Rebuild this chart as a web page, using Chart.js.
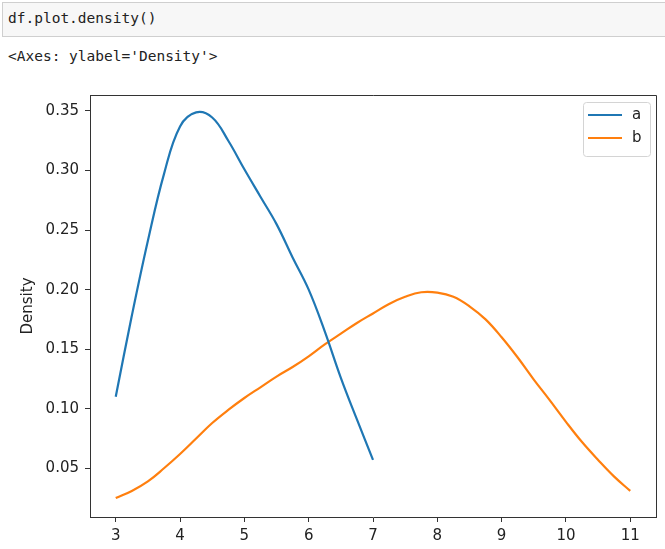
<!DOCTYPE html>
<html>
<head>
<meta charset="utf-8">
<script src="https://cdn.jsdelivr.net/npm/chart.js@4/dist/chart.umd.min.js"></script>
<style>
    body { margin: 0; background: #fff; width: 665px; height: 549px; overflow: hidden; position: relative; }
    .cell {
        position: absolute; left: 2px; top: 2px; width: 700px; height: 35px;
        background: #f7f7f7; border: 1px solid #cfcfcf; box-sizing: border-box;
    }
    .code, .out {
        position: absolute; left: 8px; font-family: "DejaVu Sans Mono", monospace;
        font-size: 14.5px; color: #222; white-space: pre;
    }
    .code { top: 10px; }
    .out { top: 48px; }
    #wrap { position: absolute; left: 0; top: 80px; width: 665px; height: 469px; }
</style>
</head>
<body>
<div class="cell"></div>
<div class="code">df.plot.density()</div>
<div class="out">&lt;Axes: ylabel='Density'&gt;</div>
<div id="wrap"><canvas id="chart"></canvas></div>

<script>
// === Data ===
const xA = [3, 3.25, 3.5, 3.75, 4, 4.25, 4.5, 4.75, 5, 5.25, 5.5, 5.75, 6, 6.25, 6.5, 6.75, 7];
const densityA = [0.110, 0.178, 0.241, 0.297, 0.337, 0.3488, 0.3445, 0.325, 0.301, 0.278, 0.255, 0.227, 0.200, 0.165, 0.126, 0.091, 0.057];

const xB = [3, 3.25, 3.5, 3.75, 4, 4.25, 4.5, 4.75, 5, 5.25, 5.5, 5.75, 6, 6.25, 6.5, 6.75, 7,
            7.25, 7.5, 7.75, 8, 8.25, 8.5, 8.75, 9, 9.25, 9.5, 9.75, 10, 10.25, 10.5, 10.75, 11];
const densityB = [0.025, 0.031, 0.039, 0.050, 0.062, 0.075, 0.088, 0.099, 0.109, 0.118, 0.127, 0.135, 0.144, 0.154, 0.163, 0.172, 0.180,
                  0.188, 0.194, 0.1978, 0.1975, 0.194, 0.186, 0.175, 0.160, 0.143, 0.1245, 0.107, 0.089, 0.072, 0.057, 0.043, 0.031];

const xTicks = [3, 4, 5, 6, 7, 8, 9, 10, 11];
const yTicks = [0.05, 0.10, 0.15, 0.20, 0.25, 0.30, 0.35];

const seriesLabels = ['a', 'b'];
const seriesColors = ['#1f77b4', '#ff7f0e'];

const FONT = "'DejaVu Sans', sans-serif";

// Draw the top and right spines so the axes make a closed box
const frameBox = {
    id: 'frameBox',
    afterDraw(chart) {
        const { ctx, chartArea: a } = chart;
        ctx.save();
        ctx.strokeStyle = '#333';
        ctx.lineWidth = 1;
        ctx.beginPath();
        ctx.moveTo(a.left, a.top + 0.5);
        ctx.lineTo(a.right + 0.5, a.top + 0.5);
        ctx.lineTo(a.right + 0.5, a.bottom);
        ctx.stroke();
        ctx.restore();
    }
};

// matplotlib-like legend in the upper right corner
const cornerLegend = {
    id: 'cornerLegend',
    afterDraw(chart) {
        const { ctx, chartArea: a } = chart;
        const w = 67, h = 54;
        const x0 = a.right - w - 6, y0 = a.top + 7;
        ctx.save();
        ctx.fillStyle = 'rgba(255,255,255,0.8)';
        ctx.strokeStyle = '#d4d4d4';
        ctx.lineWidth = 1;
        ctx.beginPath();
        ctx.roundRect(x0 + 0.5, y0 + 0.5, w, h, 3);
        ctx.fill();
        ctx.stroke();
        ctx.font = `15px ${FONT}`;
        ctx.textBaseline = 'middle';
        chart.data.datasets.forEach((ds, i) => {
            const y = y0 + 13 + i * 23;
            ctx.strokeStyle = ds.borderColor;
            ctx.lineWidth = 2.2;
            ctx.beginPath();
            ctx.moveTo(x0 + 5, y);
            ctx.lineTo(x0 + 39, y);
            ctx.stroke();
            ctx.fillStyle = '#222';
            ctx.fillText(ds.label, x0 + 49, y);
        });
        ctx.restore();
    }
};

const ctx = document.getElementById('chart').getContext('2d');
new Chart(ctx, {
    type: 'line',
    data: {
        datasets: [
            {
                label: seriesLabels[0],
                data: xA.map((x, i) => ({ x: x, y: densityA[i] })),
                borderColor: seriesColors[0]
            },
            {
                label: seriesLabels[1],
                data: xB.map((x, i) => ({ x: x, y: densityB[i] })),
                borderColor: seriesColors[1]
            }
        ].map(ds => Object.assign(ds, {
            borderWidth: 2.2,
            pointRadius: 0,
            fill: false,
            tension: 0.4
        }))
    },
    options: {
        responsive: true,
        maintainAspectRatio: false,
        animation: false,
        layout: { padding: { top: 15, right: 9, left: 0, bottom: 0 } },
        plugins: {
            legend: { display: false },
            tooltip: { enabled: false }
        },
        scales: {
            x: {
                type: 'linear',
                min: 2.6,
                max: 11.4,
                afterBuildTicks: s => { s.ticks = xTicks.map(v => ({ value: v })); },
                afterFit: s => { s.height = 32; },
                grid: { display: true, drawOnChartArea: false, drawTicks: true, tickLength: 5, color: '#333' },
                border: { display: true, color: '#333', width: 1 },
                ticks: { padding: 5, color: '#222', font: { family: FONT, size: 15 }, maxRotation: 0 }
            },
            y: {
                type: 'linear',
                min: 0.0091,
                max: 0.3634,
                afterBuildTicks: s => { s.ticks = yTicks.map(v => ({ value: v })); },
                afterFit: s => { s.width = 90; },
                grid: { display: true, drawOnChartArea: false, drawTicks: true, tickLength: 5, color: '#333' },
                border: { display: true, color: '#333', width: 1 },
                ticks: {
                    padding: 6, color: '#222', font: { family: FONT, size: 15 },
                    callback: v => v.toFixed(2)
                },
                title: {
                    display: true, text: 'Density', color: '#222',
                    font: { family: FONT, size: 15 },
                    padding: { top: 19, bottom: 0 }
                }
            }
        }
    },
    plugins: [frameBox, cornerLegend]
});
</script>
</body>
</html>
